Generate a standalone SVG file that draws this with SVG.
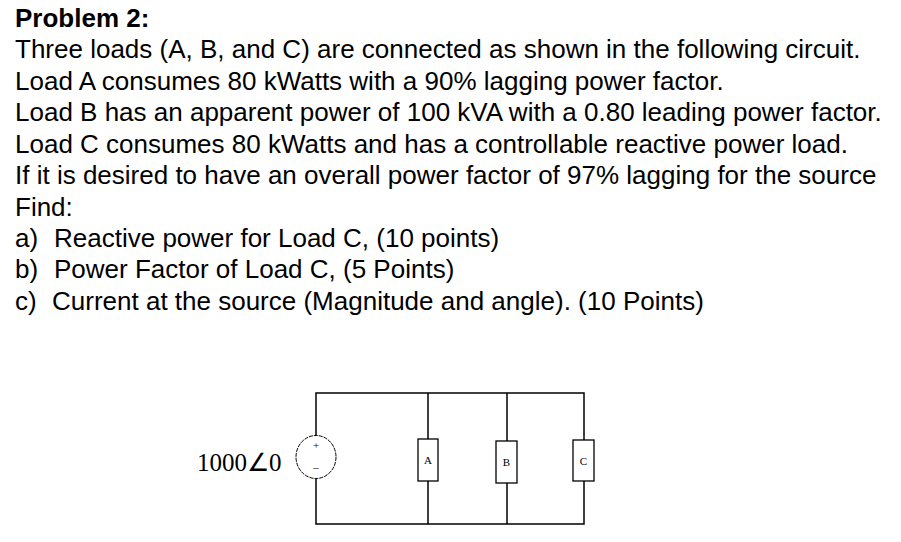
<svg xmlns="http://www.w3.org/2000/svg" width="901" height="542" viewBox="0 0 901 542">
<style>
.t{font-family:"Liberation Sans",Arial,sans-serif;font-size:26px;fill:#000}
.w{stroke:#000;stroke-width:1.5;fill:none}
.bx{stroke:#000;stroke-width:1.3;fill:#fff}
.l{font-family:"Liberation Serif",serif;font-size:11px;fill:#000;text-anchor:middle}
</style>
<rect width="901" height="542" fill="#fff"/>
<g id="problem-text">
<text class="t" x="15" y="27" font-weight="bold">Problem 2:</text>
<text class="t" x="15" y="58">Three loads (A, B, and C) are connected as shown in the following circuit.</text>
<text class="t" x="15" y="90">Load A consumes 80 kWatts with a 90% lagging power factor.</text>
<text class="t" x="15" y="121">Load B has an apparent power of 100 kVA with a 0.80 leading power factor.</text>
<text class="t" x="15" y="153">Load C consumes 80 kWatts and has a controllable reactive power load.</text>
<text class="t" x="15" y="184">If it is desired to have an overall power factor of 97% lagging for the source</text>
<text class="t" x="15" y="216">Find:</text>
<text class="t" x="15" y="247">a)</text><text class="t" x="54" y="247">Reactive power for Load C, (10 points)</text>
<text class="t" x="15" y="278">b)</text><text class="t" x="54" y="278">Power Factor of Load C, (5 Points)</text>
<text class="t" x="15" y="310">c)</text><text class="t" x="52" y="310">Current at the source (Magnitude and angle). (10 Points)</text>
</g>
<g id="connectors">
<path class="w" d="M316 436 V393 H584 V440 M428 393 V439 M507 393 V441 M316 478 V524 H584 V481 M428 481 V524 M507 483 V524"/>
</g>
<g id="source">
<ellipse cx="316" cy="457" rx="20" ry="21.5" fill="#fff" stroke="#000" stroke-width="1" stroke-dasharray="4,1"/>
<text x="316" y="449" class="l" font-size="10">+</text>
<text x="316" y="471" class="l" font-size="12">–</text>
<text x="197" y="471" font-family="Liberation Serif,serif" font-size="25" fill="#000">1000∠0</text>
</g>
<g id="load-a"><rect class="bx" x="418" y="439" width="20" height="42"/><text class="l" x="428" y="464">A</text></g>
<g id="load-b"><rect class="bx" x="496" y="441" width="21" height="42"/><text class="l" x="506.5" y="466">B</text></g>
<g id="load-c"><rect class="bx" x="573" y="440" width="21" height="41"/><text class="l" x="583.5" y="465">C</text></g>
</svg>
